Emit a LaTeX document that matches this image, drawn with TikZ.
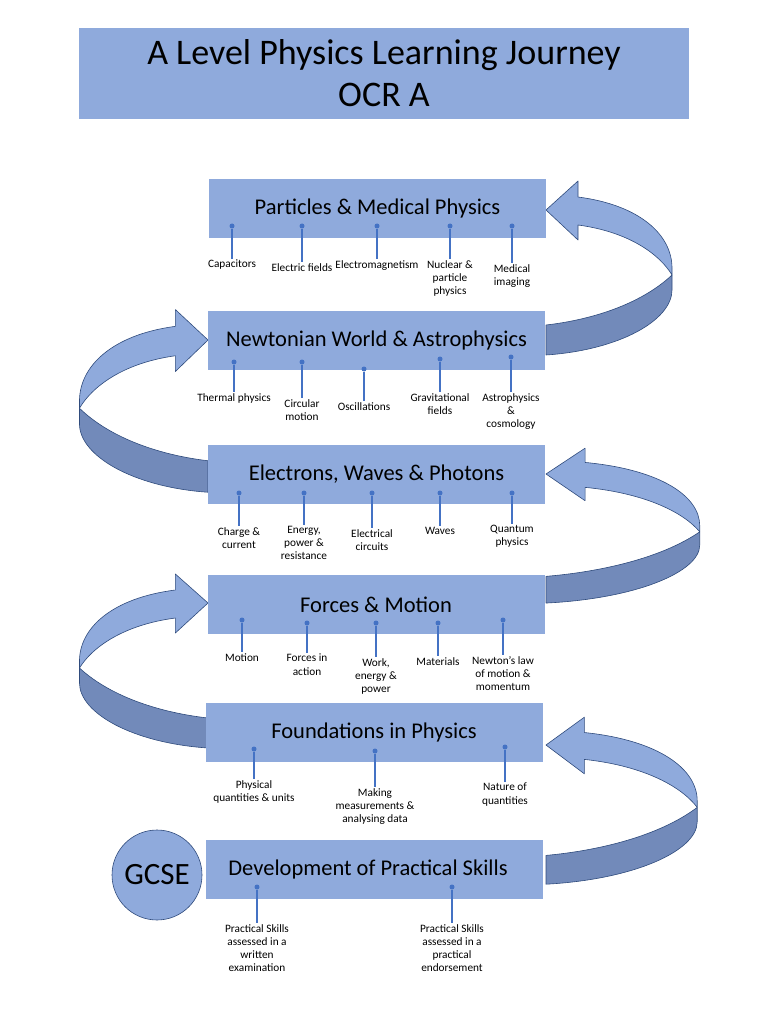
\documentclass[tikz,border=0pt]{standalone}
\usepackage{fontspec}
\setmainfont{Carlito}
\usetikzlibrary{positioning}
\definecolor{boxblue}{RGB}{143,170,220}
\definecolor{darkband}{RGB}{114,138,186}
\definecolor{edgeblue}{RGB}{47,75,124}
\definecolor{pinblue}{RGB}{68,114,196}
\tikzset{
  box/.style={fill=boxblue,minimum width=337pt,minimum height=59pt,inner sep=0pt,font=\fontsize{22.5}{26}\selectfont},
  dot/.style={circle,fill=pinblue,inner sep=0pt,minimum size=5pt},
  lbl/.style={align=center,inner sep=1pt,font=\fontsize{11.3}{13.2}\selectfont},
  band/.style={fill=boxblue,draw=edgeblue,line width=0.6pt,line join=round},
  backband/.style={fill=darkband,draw=edgeblue,line width=0.6pt,line join=round}
}
% U-turn arrow, tip at origin, lower end at (0,130)
\newcommand{\uturn}[4]{%
  \begin{scope}[shift={(#1,#2)},xscale=#3,yscale=#4]
    \draw[backband] (0,115) .. controls (44,110) and (94,95) .. (126,65) -- (126,80)
      .. controls (126,110) and (74,140) .. (0,145) -- cycle;
    \draw[band] (0,0) -- (32,-29) -- (32,-13) .. controls (94,-5) and (126,25) .. (126,58)
      -- (126,65) .. controls (114,45) and (84,22) .. (32,15) -- (32,30) -- cycle;
  \end{scope}}
\begin{document}
\begin{tikzpicture}[x=1pt,y=-1pt]
\useasboundingbox (0,0) rectangle (768,1024);

\node[fill=boxblue,minimum width=610pt,minimum height=91pt,align=center,font=\fontsize{36}{42}\selectfont] (title) at (384,73.5) {A Level Physics Learning Journey\\OCR A};

% arrows
\uturn{546}{210}{1}{1}
\uturn{546}{474}{1.22}{0.89}
\uturn{546}{745}{1.2}{0.96}
\uturn{208}{340}{-1.02}{1.05}
\uturn{208}{603}{-1.02}{1}

% topic boxes
\node[box] (part) at (377.5,208.5) {Particles \& Medical Physics};
\node[box] (newt) at (376.5,340.5) {Newtonian World \& Astrophysics};
\node[box] (elec) at (376.5,474) {Electrons, Waves \& Photons};
\node[box] (forc) at (376,604.5) {Forces \& Motion};
\node[box] (foun) at (374,732.5) {Foundations in Physics};
\node[box] (prac) at (374,869.5) {\hspace*{-12pt}Development of Practical Skills};
\node[circle,fill=boxblue,draw=edgeblue,line width=0.6pt,minimum size=90pt,inner sep=0pt,font=\fontsize{31}{34}\selectfont] (gcse) at (157,875) {GCSE};

% sub-topics
\foreach \n/\x/\yd/\yl/\t in {
  a1/232/226/259/Capacitors, a2/302/226/262/Electric fields, a3/377/226/259/Electromagnetism,
  a4/450/226/259/{Nuclear \&\\particle\\physics}, a5/512/226/263/{Medical\\imaging},
  b1/234/362/392/Thermal physics, b2/302/362/398/{Circular\\motion}, b3/364/369/401/Oscillations,
  b4/440/359/392/{Gravitational\\fields}, b5/511/357/392/{Astrophysics\\\&\\cosmology},
  c1/239/493/526/{Charge \&\\current}, c2/304/493/525/{Energy,\\power \&\\resistance},
  c3/372/493/528/{Electrical\\circuits}, c4/440/493/526/Waves, c5/512/493/524/{Quantum\\physics},
  d1/242/620/652/Motion, d2/307/623/653/{Forces in\\action}, d3/376/623/657/{Work,\\energy \&\\power},
  d4/438/623/656/Materials, d5/503/620/655/{Newton's law\\of motion \&\\momentum},
  e1/254/749/779/{Physical\\quantities \& units}, e2/375/751/787/{Making\\measurements \&\\analysing data},
  e3/505/747/782/{Nature of\\quantities},
  f1/257/887/923/{Practical Skills\\assessed in a\\written\\examination},
  f2/452/887/923/{Practical Skills\\assessed in a\\practical\\endorsement}}
{
  \node[dot] (\n) at (\x,\yd) {};
  \node[lbl,anchor=north] (\n t) at (\x,\yl) {\t};
  \draw[pinblue,line width=1.2pt] (\n) -- (\n t.north);
}
\end{tikzpicture}
\end{document}
